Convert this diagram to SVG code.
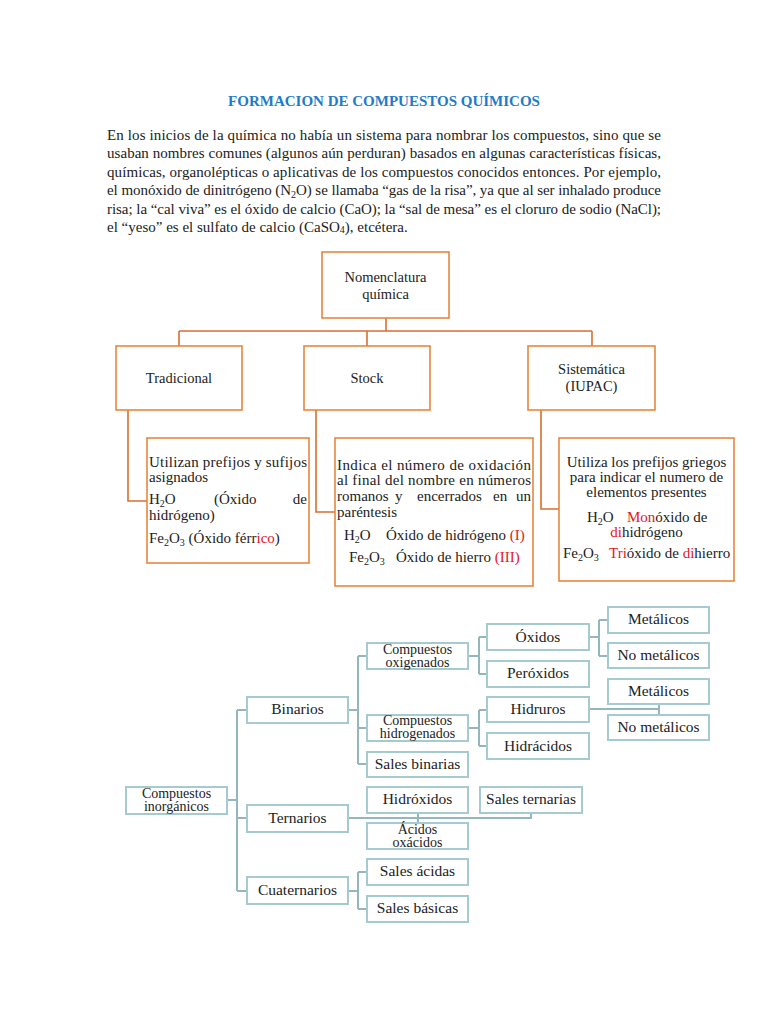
<svg xmlns="http://www.w3.org/2000/svg" width="768" height="1024" viewBox="0 0 768 1024">
<style>
text{font-family:"Liberation Serif","Times New Roman",serif;fill:#222;}
.title{font-size:15px;font-weight:bold;fill:#1F7BC8;}
.p{font-size:15px;}
.t{font-size:14.5px;}
.d{font-size:15px;}
.b{font-size:15.5px;}
.b2{font-size:14px;}
.red{fill:#E8141B;}
.ob{fill:#fff;stroke:#E8873F;stroke-width:1.6;}
.ol{fill:none;stroke:#D96F2F;stroke-width:1.6;}
.tb{fill:#fff;stroke:#A5CBD0;stroke-width:2;}
.tl{fill:none;stroke:#93B7BC;stroke-width:2;}
.c{text-anchor:middle;}
</style>
<rect width="768" height="1024" fill="#fff"/>
<text class="title c" x="384" y="106">FORMACION DE COMPUESTOS QUÍMICOS</text>
<g id="paragraph">
<text class="p" x="107" y="139.5" textLength="554" lengthAdjust="spacing">En los inicios de la química no había un sistema para nombrar los compuestos, sino que se</text>
<text class="p" x="107" y="158" textLength="554" lengthAdjust="spacing">usaban nombres comunes (algunos aún perduran) basados en algunas características físicas,</text>
<text class="p" x="107" y="176.5" textLength="554" lengthAdjust="spacing">químicas, organolépticas o aplicativas de los compuestos conocidos entonces. Por ejemplo,</text>
<text class="p" x="107" y="195" textLength="554" lengthAdjust="spacing">el monóxido de dinitrógeno (N<tspan font-size="10" dy="3">2</tspan><tspan dy="-3">O) se llamaba “gas de la risa”, ya que al ser inhalado produce</tspan></text>
<text class="p" x="107" y="213.5" textLength="554" lengthAdjust="spacing">risa; la “cal viva” es el óxido de calcio (CaO); la “sal de mesa” es el cloruro de sodio (NaCl);</text>
<text class="p" x="107" y="232">el “yeso” es el sulfato de calcio (CaSO<tspan font-size="10" dy="1">4</tspan><tspan dy="-1">), etcétera.</tspan></text>
</g>
<g id="top-connectors">
<path class="ol" d="M386,318V331M179,331H592M179,331V346M367,331V346M592,331V346"/>
<path class="ol" d="M128,410V501H147M316,410V512H335M541,410V509H559"/>
</g>
<g id="nomenclatura">
<rect class="ob" x="322" y="252" width="127" height="66"/>
<text class="t c" x="385.5" y="282">Nomenclatura</text>
<text class="t c" x="385.5" y="299">química</text>
</g>
<g id="tradicional">
<rect class="ob" x="116" y="346" width="126" height="64"/>
<text class="t c" x="179" y="383">Tradicional</text>
</g>
<g id="stock">
<rect class="ob" x="304" y="346" width="126" height="64"/>
<text class="t c" x="367" y="383">Stock</text>
</g>
<g id="sistematica">
<rect class="ob" x="528" y="346" width="127" height="64"/>
<text class="t c" x="591.5" y="374">Sistemática</text>
<text class="t c" x="591.5" y="391">(IUPAC)</text>
</g>
<g id="tradicional-detalle">
<rect class="ob" x="147" y="438" width="162" height="125"/>
<text class="d" x="149" y="467" textLength="158" lengthAdjust="spacing">Utilizan prefijos y sufijos</text>
<text class="d" x="149" y="482">asignados</text>
<text class="d" x="149" y="504">H<tspan font-size="10" dy="3">2</tspan><tspan dy="-3">O</tspan></text>
<text class="d" x="214" y="504">(Óxido</text>
<text class="d" x="307" y="504" text-anchor="end">de</text>
<text class="d" x="149" y="520">hidrógeno)</text>
<text class="d" x="149" y="543">Fe<tspan font-size="10" dy="3">2</tspan><tspan dy="-3">O</tspan><tspan font-size="10" dy="3">3</tspan><tspan dy="-3"> (Óxido férr</tspan><tspan class="red">ico</tspan>)</text>
</g>
<g id="stock-detalle">
<rect class="ob" x="335" y="438" width="198" height="148"/>
<text class="d" x="337" y="470" textLength="194" lengthAdjust="spacing">Indica el número de oxidación</text>
<text class="d" x="337" y="485" textLength="194" lengthAdjust="spacing">al final del nombre en números</text>
<text class="d" x="337" y="501">romanos</text>
<text class="d" x="395" y="501">y</text>
<text class="d" x="417" y="501">encerrados</text>
<text class="d" x="493" y="501">en</text>
<text class="d" x="531" y="501" text-anchor="end">un</text>
<text class="d" x="337" y="517">paréntesis</text>
<text class="d" x="344" y="540">H<tspan font-size="10" dy="3">2</tspan><tspan dy="-3">O</tspan></text>
<text class="d" x="386" y="540">Óxido de hidrógeno <tspan class="red">(I)</tspan></text>
<text class="d" x="349" y="562">Fe<tspan font-size="10" dy="3">2</tspan><tspan dy="-3">O</tspan><tspan font-size="10" dy="3">3</tspan></text>
<text class="d" x="396" y="562">Óxido de hierro <tspan class="red">(III)</tspan></text>
</g>
<g id="sistematica-detalle">
<rect class="ob" x="559" y="438" width="175" height="143"/>
<text class="d c" x="646.5" y="467">Utiliza los prefijos griegos</text>
<text class="d c" x="646.5" y="482">para indicar el numero de</text>
<text class="d c" x="646.5" y="497">elementos presentes</text>
<text class="d" x="587" y="522">H<tspan font-size="10" dy="3">2</tspan><tspan dy="-3">O</tspan></text>
<text class="d" x="627" y="522"><tspan class="red">Mon</tspan>óxido de</text>
<text class="d c" x="646.5" y="537"><tspan class="red">di</tspan>hidrógeno</text>
<text class="d" x="563" y="558">Fe<tspan font-size="10" dy="3">2</tspan><tspan dy="-3">O</tspan><tspan font-size="10" dy="3">3</tspan></text>
<text class="d" x="609" y="558"><tspan class="red">Tri</tspan>óxido de <tspan class="red">di</tspan>hierro</text>
</g>
<g id="bottom-connectors">
<path class="tl" d="M227,800H237M237,710V891M237,710H247M237,818H247M237,891H247"/>
<path class="tl" d="M348,710H358M358,656V764M358,656H367M358,728H367M358,764H367"/>
<path class="tl" d="M468,656H479M479,637V674M479,637H487M479,674H487"/>
<path class="tl" d="M468,728H479M479,710V746M479,710H487M479,746H487"/>
<path class="tl" d="M589,637H599M599,620V656M599,620H608M599,656H608"/>
<path class="tl" d="M589,709H659M659,704V715"/>
<path class="tl" d="M348,818H531V813M418,813V823"/>
<path class="tl" d="M348,891H358M358,872V909M358,872H367M358,909H367"/>
</g>
<g id="compuestos-inorganicos"><rect class="tb" x="126" y="787" width="101" height="27"/><text class="b2 c" x="176.5" y="797.5">Compuestos</text><text class="b2 c" x="176.5" y="810.5">inorgánicos</text></g>
<g id="binarios"><rect class="tb" x="247" y="697" width="101" height="26"/><text class="b c" x="297.5" y="714">Binarios</text></g>
<g id="ternarios"><rect class="tb" x="247" y="805" width="101" height="27"/><text class="b c" x="297.5" y="822.5">Ternarios</text></g>
<g id="cuaternarios"><rect class="tb" x="247" y="877" width="101" height="27"/><text class="b c" x="297.5" y="894.5">Cuaternarios</text></g>
<g id="compuestos-oxigenados"><rect class="tb" x="367" y="643" width="101" height="26"/><text class="b2 c" x="417.5" y="653.5">Compuestos</text><text class="b2 c" x="417.5" y="666.5">oxigenados</text></g>
<g id="compuestos-hidrogenados"><rect class="tb" x="367" y="715" width="101" height="26"/><text class="b2 c" x="417.5" y="725">Compuestos</text><text class="b2 c" x="417.5" y="738">hidrogenados</text></g>
<g id="sales-binarias"><rect class="tb" x="367" y="752" width="101" height="25"/><text class="b c" x="417.5" y="768.5">Sales binarias</text></g>
<g id="hidroxidos"><rect class="tb" x="367" y="787" width="101" height="26"/><text class="b c" x="417.5" y="804">Hidróxidos</text></g>
<g id="acidos-oxacidos"><rect class="tb" x="367" y="823" width="101" height="26"/><text class="b2 c" x="417.5" y="834">Ácidos</text><text class="b2 c" x="417.5" y="847">oxácidos</text></g>
<g id="sales-acidas"><rect class="tb" x="367" y="859" width="101" height="26"/><text class="b c" x="417.5" y="876">Sales ácidas</text></g>
<g id="sales-basicas"><rect class="tb" x="367" y="896" width="101" height="26"/><text class="b c" x="417.5" y="913">Sales básicas</text></g>
<g id="sales-ternarias"><rect class="tb" x="480" y="787" width="102" height="26"/><text class="b c" x="531" y="804">Sales ternarias</text></g>
<g id="oxidos"><rect class="tb" x="487" y="624" width="102" height="26"/><text class="b c" x="538" y="641.5">Óxidos</text></g>
<g id="peroxidos"><rect class="tb" x="487" y="661" width="102" height="26"/><text class="b c" x="538" y="678">Peróxidos</text></g>
<g id="hidruros"><rect class="tb" x="487" y="697" width="102" height="25"/><text class="b c" x="538" y="714">Hidruros</text></g>
<g id="hidracidos"><rect class="tb" x="487" y="733" width="102" height="26"/><text class="b c" x="538" y="750.5">Hidrácidos</text></g>
<g id="metalicos-1"><rect class="tb" x="608" y="607" width="101" height="26"/><text class="b c" x="658.5" y="624">Metálicos</text></g>
<g id="no-metalicos-1"><rect class="tb" x="608" y="643" width="101" height="25"/><text class="b c" x="658.5" y="660">No metálicos</text></g>
<g id="metalicos-2"><rect class="tb" x="608" y="679" width="101" height="25"/><text class="b c" x="658.5" y="696">Metálicos</text></g>
<g id="no-metalicos-2"><rect class="tb" x="608" y="715" width="101" height="25"/><text class="b c" x="658.5" y="732">No metálicos</text></g>
</svg>
